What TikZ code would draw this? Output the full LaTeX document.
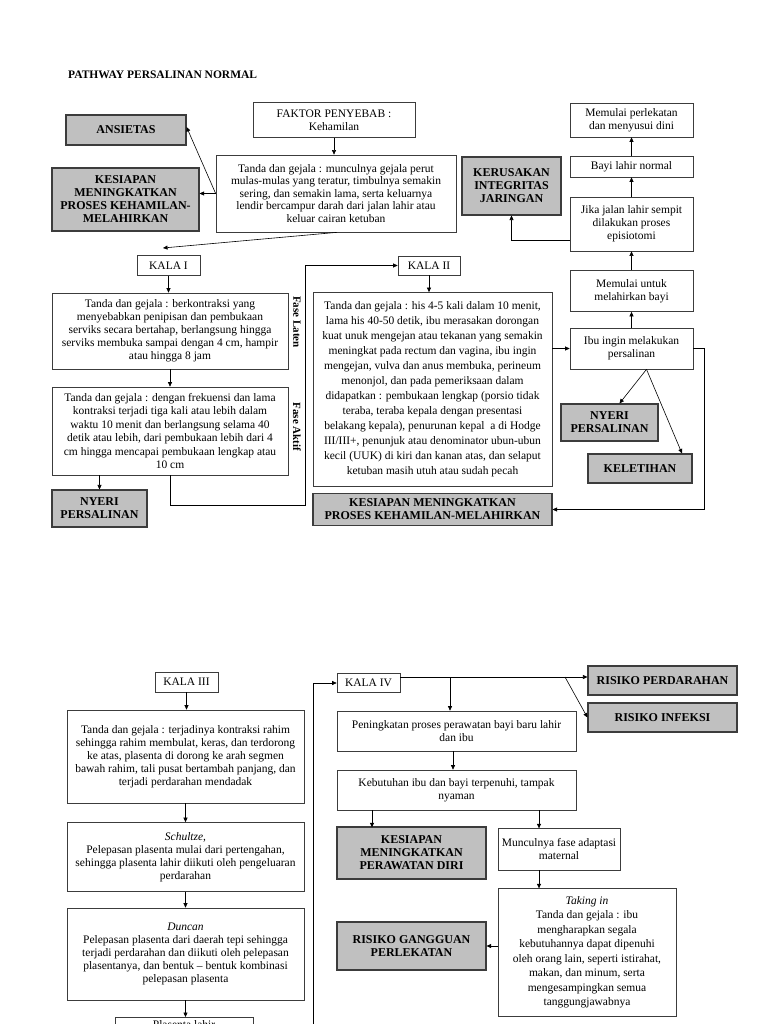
\documentclass[tikz,border=0pt]{standalone}
\usepackage{fontspec}
\setmainfont{Liberation Serif}
\usetikzlibrary{arrows.meta}
\definecolor{boxgray}{RGB}{192,192,192}
\definecolor{edgegray}{RGB}{60,60,60}
\tikzset{
  textbox/.style={draw=edgegray, line width=0.7pt, fill=white, align=center,
    inner sep=1pt, font=\fontsize{11.5}{13}\selectfont},
  diagbox/.style={draw=edgegray, line width=1.1pt, fill=boxgray, align=center,
    inner sep=1pt, font=\fontsize{12}{13}\selectfont\bfseries},
  link/.style={->, line width=0.6pt, draw=black},
  faselabel/.style={rotate=-90, font=\fontsize{11}{12}\selectfont\bfseries},
}
\begin{document}
\begin{tikzpicture}[x=1pt, y=-1pt, >={Triangle[length=4.5pt,width=4pt]}]
\useasboundingbox[fill=white] (0,0) rectangle (768,1024);

\node[anchor=west, inner sep=0pt, font=\fontsize{11.5}{12}\selectfont\bfseries] (title)
  at (68,75) {PATHWAY PERSALINAN NORMAL};

% kala I bagian atas
\node[diagbox, minimum width=120pt, minimum height=30pt] (ansietas) at (126,130)
  {ANSIETAS};
\node[diagbox, minimum width=147pt, minimum height=63pt] (kesiapanA) at (125.5,199.5)
  {KESIAPAN\\MENINGKATKAN\\PROSES KEHAMILAN-\\MELAHIRKAN};
\node[textbox, minimum width=162pt, minimum height=35pt] (faktor) at (334,120)
  {FAKTOR PENYEBAB :\\Kehamilan};
\node[textbox, minimum width=240pt, minimum height=77pt,
  font=\fontsize{11.5}{12.5}\selectfont] (tandaA) at (336,193.5)
  {Tanda dan gejala : munculnya gejala perut\\
   mulas-mulas yang teratur, timbulnya semakin\\
   sering, dan semakin lama, serta keluarnya\\
   lendir bercampur darah dari jalan lahir atau\\
   keluar cairan ketuban};

\node[textbox, minimum width=63pt, minimum height=20pt] (kalaI) at (168.5,265.5) {KALA I};
\node[textbox, minimum width=236pt, minimum height=76pt] (laten) at (170,331)
  {Tanda dan gejala : berkontraksi yang\\
   menyebabkan penipisan dan pembukaan\\
   serviks secara bertahap, berlangsung hingga\\
   serviks membuka sampai dengan 4 cm, hampir\\
   atau hingga 8 jam};
\node[textbox, minimum width=236pt, minimum height=88pt,
  font=\fontsize{11.5}{13.5}\selectfont] (aktif) at (170,431)
  {Tanda dan gejala : dengan frekuensi dan lama\\
   kontraksi terjadi tiga kali atau lebih dalam\\
   waktu 10 menit dan berlangsung selama 40\\
   detik atau lebih, dari pembukaan lebih dari 4\\
   cm hingga mencapai pembukaan lengkap atau\\
   10 cm};
\node[diagbox, minimum width=95pt, minimum height=37pt] (nyeriA) at (99.5,508.5)
  {NYERI\\PERSALINAN};
\node[faselabel] (faseL) at (297,322) {Fase Laten};
\node[faselabel] (faseA) at (297,427) {Fase Aktif};

% kala II
\node[textbox, minimum width=62pt, minimum height=19pt] (kalaII) at (429,265.5) {KALA II};
\node[textbox, minimum width=239pt, minimum height=194pt,
  font=\fontsize{11.5}{15}\selectfont] (tandaB) at (432.5,389.5)
  {Tanda dan gejala : his 4-5 kali dalam 10 menit,\\
   lama his 40-50 detik, ibu merasakan dorongan\\
   kuat unuk mengejan atau tekanan yang semakin\\
   meningkat pada rectum dan vagina, ibu ingin\\
   mengejan, vulva dan anus membuka, perineum\\
   menonjol, dan pada pemeriksaan dalam\\
   didapatkan : pembukaan lengkap (porsio tidak\\
   teraba, teraba kepala dengan presentasi\\
   belakang kepala), penurunan kepal\ \ a di Hodge\\
   III/III+, penunjuk atau denominator ubun-ubun\\
   kecil (UUK) di kiri dan kanan atas, dan selaput\\
   ketuban masih utuh atau sudah pecah};
\node[diagbox, minimum width=239pt, minimum height=32pt] (kesiapanB) at (432.5,509.5)
  {KESIAPAN MENINGKATKAN\\PROSES KEHAMILAN-MELAHIRKAN};

% kolom kanan
\node[textbox, minimum width=123pt, minimum height=34pt] (memulaiA) at (631.5,120)
  {Memulai perlekatan\\dan menyusui dini};
\node[textbox, minimum width=123pt, minimum height=21pt] (bayi) at (631.5,166.5)
  {Bayi lahir normal};
\node[textbox, minimum width=123pt, minimum height=54pt] (jika) at (631.5,224)
  {Jika jalan lahir sempit\\dilakukan proses\\episiotomi};
\node[textbox, minimum width=123pt, minimum height=41pt] (memulaiB) at (631.5,291)
  {Memulai untuk\\melahirkan bayi};
\node[textbox, minimum width=123pt, minimum height=41pt] (ibu) at (631.5,348.5)
  {Ibu ingin melakukan\\persalinan};
\node[diagbox, minimum width=99pt, minimum height=58pt] (kerusakan) at (511.5,186)
  {KERUSAKAN\\INTEGRITAS\\JARINGAN};
\node[diagbox, minimum width=97pt, minimum height=37pt] (nyeriB) at (609.5,422.5)
  {NYERI\\PERSALINAN};
\node[diagbox, minimum width=104pt, minimum height=29pt] (keletihan) at (640,468.5)
  {KELETIHAN};

\draw[link] (faktor.south) -- (faktor.south |- tandaA.north);
\draw[link] (tandaA.west) -- ([yshift=3pt]ansietas.east);
\draw[link] (tandaA.west) -- (tandaA.west -| kesiapanA.east);
\coordinate (kalaIin) at (163,248);
\draw[link] ([xshift=1pt]tandaA.south) -- (kalaIin);
\draw[link] (kalaI.south) -- (kalaI.south |- laten.north);
\draw[link] (laten.south) -- (aktif.north);
\draw[link] (aktif.south -| nyeriA) -- (nyeriA.north);
\coordinate (turnA) at (305,505);
\draw[link] (aktif.south) |- (turnA) |- (kalaII.west);
\draw[link] (kalaII.south) -- (kalaII.south |- tandaB.north);
\draw[link] (ibu.west -| tandaB.east) -- (ibu.west);
\draw[link] (ibu.east) -- ++(11,0) |- (kesiapanB.east);
\draw[link] (ibu.north) -- (memulaiB.south);
\draw[link] (memulaiB.north) -- (jika.south);
\draw[link] (jika.north) -- (bayi.south);
\draw[link] (bayi.north) -- (memulaiA.south);
\draw[link] ([yshift=-16pt]jika.west) -| (kerusakan.south);
\draw[link] ([xshift=15pt]ibu.south) -- ([xshift=10pt]nyeriB.north);
\draw[link] ([xshift=15pt]ibu.south) -- ([xshift=42pt]keletihan.north);

% kala III
\node[textbox, minimum width=63pt, minimum height=20pt] (kalaIII) at (186.5,682) {KALA III};
\node[textbox, minimum width=237pt, minimum height=93pt] (tandaC) at (185.5,756.5)
  {Tanda dan gejala : terjadinya kontraksi rahim\\
   sehingga rahim membulat, keras, dan terdorong\\
   ke atas, plasenta di dorong ke arah segmen\\
   bawah rahim, tali pusat bertambah panjang, dan\\
   terjadi perdarahan mendadak};
\node[textbox, minimum width=237pt, minimum height=69pt] (schultze) at (185.5,857)
  {\textit{Schultze},\\
   Pelepasan plasenta mulai dari pertengahan,\\
   sehingga plasenta lahir diikuti oleh pengeluaran\\
   perdarahan};
\node[textbox, minimum width=237pt, minimum height=92pt] (duncan) at (185.5,954)
  {\textit{Duncan}\\
   Pelepasan plasenta dari daerah tepi sehingga\\
   terjadi perdarahan dan diikuti oleh pelepasan\\
   plasentanya, dan bentuk -- bentuk kombinasi\\
   pelepasan plasenta};
\node[textbox, anchor=north, minimum width=138pt, inner ysep=3pt] (plasenta) at (184,1017)
  {Plasenta lahir\\ \strut};

\draw[link] (kalaIII.south) -- (kalaIII.south |- tandaC.north);
\draw[link] (tandaC.south) -- (schultze.north);
\draw[link] (schultze.south) -- (duncan.north);
\draw[link] (duncan.south) -- (duncan.south |- plasenta.north);

% kala IV
\node[textbox, minimum width=63pt, minimum height=19pt] (kalaIV) at (368.5,683) {KALA IV};
\node[diagbox, minimum width=149pt, minimum height=29pt] (risikoP) at (662.5,680.5)
  {RISIKO PERDARAHAN};
\node[diagbox, minimum width=149pt, minimum height=29pt] (risikoI) at (662.5,717.5)
  {RISIKO INFEKSI};
\node[textbox, minimum width=239pt, minimum height=40pt] (peningkatan) at (456.5,731)
  {Peningkatan proses perawatan bayi baru lahir\\dan ibu};
\node[textbox, minimum width=239pt, minimum height=40pt] (kebutuhan) at (456.5,790)
  {Kebutuhan ibu dan bayi terpenuhi, tampak\\nyaman};
\node[diagbox, minimum width=149pt, minimum height=52pt] (kesiapanC) at (411.5,853)
  {KESIAPAN\\MENINGKATKAN\\PERAWATAN DIRI};
\node[textbox, minimum width=122pt, minimum height=42pt] (munculnya) at (559,849)
  {Munculnya fase adaptasi\\maternal};
\node[textbox, minimum width=178pt, minimum height=128pt,
  font=\fontsize{11.5}{14.5}\selectfont] (taking) at (587,952)
  {\textit{Taking in}\\
   Tanda dan gejala : ibu\\
   mengharapkan segala\\
   kebutuhannya dapat dipenuhi\\
   oleh orang lain, seperti istirahat,\\
   makan, dan minum, serta\\
   mengesampingkan semua\\
   tanggungjawabnya};
\node[diagbox, minimum width=149pt, minimum height=48pt] (risikoG) at (411.5,946)
  {RISIKO GANGGUAN\\PERLEKATAN};

\coordinate (upL) at (313,1040);
\draw[link] (upL) |- (kalaIV.west);
\draw[link] ([yshift=6pt]kalaIV.east) -| ([xshift=-6.5pt]peningkatan.north);
\draw[link] ([yshift=6pt]kalaIV.east) -- ([yshift=3.5pt]risikoP.west);
\coordinate (forkR) at (565,677);
\draw[link] (forkR) -- (risikoI.west);
\draw[link] ([xshift=-3.5pt]peningkatan.south) -- ([xshift=-3.5pt]kebutuhan.north);
\draw[link] ([xshift=-84.5pt]kebutuhan.south) -- ++(0,17);
\draw[link] ([xshift=82.5pt]kebutuhan.south) -- ++(0,18);
\draw[link] ([xshift=-20pt]munculnya.south) -- ++(0,18);
\draw[link] (risikoG.east -| taking.west) -- (risikoG.east);

\end{tikzpicture}
\end{document}
